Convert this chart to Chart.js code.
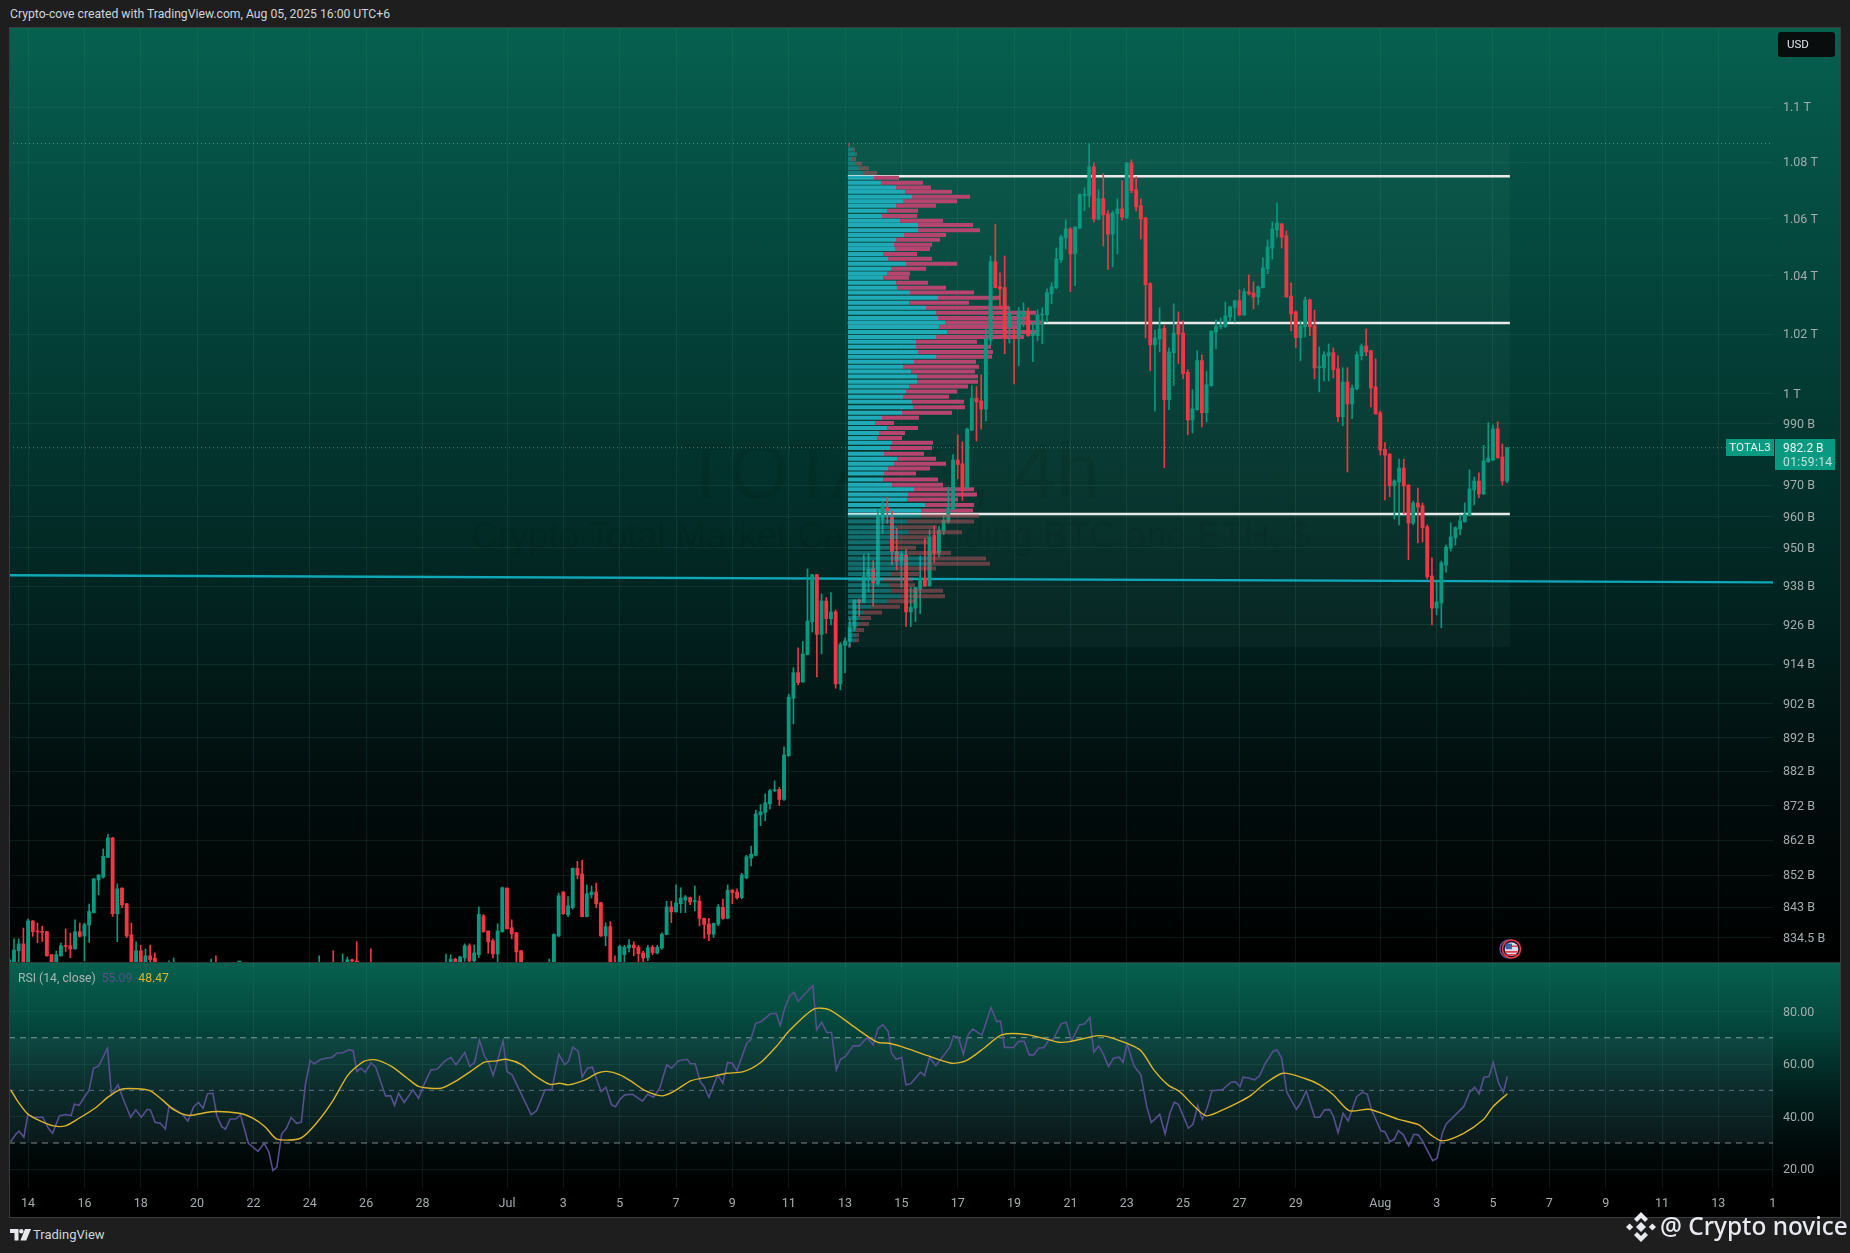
<!DOCTYPE html>
<html>
<head>
<meta charset="utf-8">
<title>TOTAL3, 4h</title>
<script src="https://cdn.jsdelivr.net/npm/chart.js@4.4.4/dist/chart.umd.min.js"></script>
<style>
  html, body { margin: 0; padding: 0; background: #1e1e1e; width: 1850px; height: 1253px; overflow: hidden; }
  body { position: relative; font-family: Roboto, sans-serif; color: #b2b5be; }
  .abs { position: absolute; white-space: nowrap; }
  #pricePane { left: 9px; top: 27px; width: 1831px; height: 935px;
    background: linear-gradient(180deg, #06614f 0%, #055347 12%, #033b33 38%, #022320 62%, #010c0c 82%, #000 100%); }
  #rsiPane { left: 9px; top: 963px; width: 1831px; height: 254px;
    background: linear-gradient(180deg, #06614f 0%, #04453b 26%, #022320 48%, #010c0c 70%, #000 88%, #000 100%); }
  #frame { left: 9px; top: 27px; width: 1830px; height: 1189px; border: 1px solid #3a3d3f; box-sizing: content-box; }
  #paneGap { left: 9px; top: 962px; width: 1831px; height: 1px; background: #2a3a38; }
  canvas { position: absolute; left: 0; top: 0; }
  .mark1 { left: 9px; width: 1764px; text-align: center; top: 426px; font: 78px "Liberation Sans", sans-serif; color: rgba(0,0,0,0.08); }
  .mark2 { left: 9px; width: 1764px; text-align: center; top: 515px; font: 36.5px "Liberation Sans", sans-serif; color: rgba(0,0,0,0.08); }
  .tag { background: #089981; color: #eef3f2; font-size: 12px; }
</style>
</head>
<body>
<div class="abs" style="left:10px;top:7px;font-size:12.2px;color:#d1d4dc;">Crypto-cove created with TradingView.com, Aug 05, 2025 16:00 UTC+6</div>

<div class="abs" id="pricePane"></div>
<div class="abs mark1">TOTAL3, 4h</div>
<div class="abs mark2">Crypto Total Market Cap Excluding BTC and ETH, $</div>
<div class="abs" style="left:9px;top:27px;width:1831px;height:935px;"><canvas id="priceChart" width="1831" height="935"></canvas></div>

<div class="abs" id="rsiPane"></div>
<div class="abs" style="left:9px;top:963px;width:1831px;height:254px;"><canvas id="rsiChart" width="1831" height="254"></canvas></div>
<div class="abs" id="paneGap"></div>
<div class="abs" id="frame"></div>

<div class="abs" style="left:18px;top:971px;font-size:12.2px;color:#a9b4b4;">RSI (14, close)
  <span style="color:#574f8e;margin-left:3px;">55.09</span>
  <span style="color:#dcb52e;margin-left:3px;">48.47</span></div>

<div class="abs" style="left:1778px;top:32px;width:57px;height:25px;background:#090d0d;border-radius:3px;box-sizing:border-box;padding:5px 0 0 9px;font-size:11.5px;color:#e0e3eb;">USD</div>
<div class="abs tag" style="left:1726px;top:439px;width:48px;height:17px;line-height:17px;text-align:center;font-size:11.6px;">TOTAL3</div>
<div class="abs tag" style="left:1775px;top:439px;width:60px;height:31px;box-sizing:border-box;padding:2px 0 0 8px;line-height:14px;">982.2 B<br><span style="color:#c4e2dc;letter-spacing:.4px;">01:59:14</span></div>

<svg class="abs" style="left:1497px;top:938px;" width="26" height="22" viewBox="0 0 26 22">
  <circle cx="12" cy="11" r="9" fill="#141028" stroke="#5b5093" stroke-width="1.5"/>
  <circle cx="14.5" cy="11" r="9" fill="#141028" stroke="#f23645" stroke-width="1.6"/>
  <circle cx="14.5" cy="11" r="6.8" fill="#d8dce6"/>
  <path d="M8.2 13h12.6v1.8H8.2zM9.6 16h9.8v1.4H9.6zM15 7.4h5v1.6h-5z" fill="#e8404f"/>
  <rect x="8.6" y="5.6" width="6.4" height="5.6" fill="#3f5fb0"/>
</svg>

<svg class="abs" style="left:10px;top:1229px;" width="21" height="12" viewBox="0 0 21 12">
  <path d="M0 0h8.5v11.5h-4V4H0z M15 0h6l-4.8 11.5h-5.8z" fill="#e6e8ec"/><circle cx="11.3" cy="2.2" r="2.2" fill="#e6e8ec"/>
</svg>
<div class="abs" style="left:33px;top:1227px;font-size:13px;color:#d1d4dc;">TradingView</div>

<svg class="abs" style="left:1626px;top:1212px;" width="30" height="30" viewBox="0 0 30 30">
  <g fill="#e8eaf0">
    <path d="M15 0l7 7-3 3-4-4-4 4-3-3z"/>
    <path d="M15 30l7-7-3-3-4 4-4-4-3 3z"/>
    <path d="M0 15l3.6-3.6 3.6 3.6-3.6 3.6zM22.8 15l3.6-3.6L30 15l-3.6 3.6z"/>
    <path d="M15 10l5 5-5 5-5-5z"/>
  </g>
</svg>
<div class="abs" style="left:1660px;top:1209px;font:500 24.4px 'Noto Sans',sans-serif;color:#e8eaf0;">@ Crypto novice</div>

<script>
// 4h candles, billions USD. Everything under about 827.8 sits below the pane edge
const opens = [
  824,827.9,830.9,832.8,826,839.2,836.3,836.2,836.2,829.8,
  826,829.5,832.3,832.3,831.4,836.2,835,838,841.5,850.7,
  851.5,857.1,862.7,841.2,848.4,844,835.3,827,830.9,827,
  829.5,828.9,826,824,825,825,823,822,821,820,
  819,820,821,824,826,824,822,820,819,818,
  818,817,818,819,820,819,818,817,818,819,
  820,819,820,821,822,823,824,825,824,825,
  824,825,826,828.4,828.1,824,823,825,824,823,
  822,821,820,819,820,821,822,821,822,823,
  824,823,824,825,826,828.6,827,828.9,832.3,828.1,
  829.8,840.6,836.4,833.7,830,836.2,848.4,837.3,835.9,830.9,
  826,824,823,822,823,824,826,835,847.3,840.9,
  842.9,854,852.4,840.4,846.5,847.3,844.3,835,837.6,826.5,
  827.6,829.8,831.7,832.5,831.9,830.3,828.9,831.9,830.3,831.7,
  835.4,843.1,841.7,844,845,845.7,844.6,844.7,839.9,838.3,
  835.5,838.3,843,839.9,847.8,847.3,845.7,851.3,856.9,857.7,
  869.3,870,872.5,876.3,876.7,873.8,886.6,903.7,911.4,908.6,
  916.9,926.9,941.6,923.1,933.4,927.9,930,908,919.7,921,
  925.1,933.7,932.9,940.8,943.4,938.8,959,962.7,959.9,948.9,
  945.7,947.7,930,931.2,937.1,940.5,938.1,954,948.5,955.5,
  958.3,962.3,978.2,977,969.2,988,998.5,997.6,994.9,1018,
  1044.9,1036.2,1035.9,1022.5,1019.7,1019.2,1026,1027.7,1019.5,1019.5,
  1026.5,1026.6,1033.8,1035.9,1045.5,1053.2,1056.3,1047.6,1056.6,1068.2,
  1068,1078.4,1059.8,1067,1061.6,1054.5,1061.6,1063.4,1060.2,1079.8,
  1070.2,1064.5,1060.2,1037.3,1016.4,1018.4,1022,998,1013.7,1023.5,
  1020.4,1007.1,991.3,994.7,1011.1,993.7,1002.7,1020.7,1022.6,1022.5,
  1025.9,1029.1,1031.4,1026.5,1034.5,1034.1,1032.7,1035.9,1042.4,1049.6,
  1056,1058.1,1053.9,1033,1027.6,1018.8,1022.5,1031.7,1022.8,1008.7,
  1008.6,1012.7,1013.7,1008.3,992.4,1003.9,996.6,1001.6,1012.7,1016,
  1014.4,1002.3,993.7,981.7,980.1,969.8,971.1,975.6,970.1,957.9,
  964.3,963.4,956.7,941.2,931.2,932.8,944.6,949.9,953.2,956,
  958.3,960.5,968.5,971.4,967.2,977.6,978.2,988.4,979.2,971.4
];
const highs = [
  828.8,834.2,834.2,837.2,839.7,839.3,838.6,837.7,836.3,829.9,
  830.8,833,837,835.8,839.5,838.6,838.6,843.9,851.1,852.2,
  859.5,863.7,862.8,849.6,848.5,844.1,838.6,833.4,832.4,831.4,
  832.5,830.3,826.5,825,828.1,828.9,823.5,822,821.5,820.5,
  821,822,824,828.6,829.5,824.5,822.5,820.5,819.5,819,
  819,819,820,821,821,820,819,819,820,821,
  821,821,822,823,824,825,829.5,825.5,826,830.9,
  826,830,829.2,828.6,833.4,824.5,826,831.4,824.5,823.5,
  822.5,821.5,820.5,821,822,823,822.5,823,824,825,
  824.5,825,826,830,829.8,828.9,829.4,832.8,832.8,832.5,
  843.1,841,836.4,834.2,838.4,848.7,848.5,839.5,836,831,
  826.5,824.5,823.5,824,825,828.6,835.6,847,847.4,846,
  854.1,856,856.3,849.3,849,849.8,844.4,838.7,839,829.5,
  832.5,832.4,834,833.4,832.4,830.8,832.4,832.4,832.4,835.9,
  844.7,844.7,849.3,848.5,846.3,845.9,849,846.2,840,839.9,
  838.6,843.8,845.3,849.3,848,848.2,852.6,857.7,860.3,870.7,
  872.3,875.4,876.7,879.2,877.3,889.2,904.9,912.9,919,920.9,
  943.4,941.7,941.7,935.6,934.5,936,930.6,920.6,922,927.9,
  933.8,934,947.8,948.2,946,962.3,964.8,966.1,961.7,956.2,
  948.9,949.6,937.6,937.7,947.4,953,955.7,957,956.9,960.3,
  969.4,980,986.4,984.1,988.6,1002.7,1002.4,1006.3,1021.7,1046.9,
  1058,1041,1046.9,1029.3,1021.7,1029.1,1030.7,1029,1023.9,1028.3,
  1029,1035.5,1037.6,1049.7,1054.2,1059.5,1056.8,1057.1,1068.8,1070.9,
  1086.8,1079.8,1070.2,1075.9,1062.7,1062.7,1067,1073.4,1080,1080.9,
  1074.8,1067,1060.4,1037.6,1021.4,1029,1023.1,1015.4,1030.4,1027.6,
  1024.5,1008,1001.3,1014.4,1013,1007.4,1021.2,1024.9,1025.5,1031,
  1029.6,1031.5,1035.2,1035.5,1040.3,1037.9,1036.5,1046.2,1052.5,1058.8,
  1065.5,1058.2,1055.6,1037.6,1027.9,1024.5,1032.7,1032,1028.2,1015.7,
  1014.1,1016.7,1015.4,1012.7,1008.7,1008.7,1002.9,1014.1,1016.7,1021.8,
  1014.5,1011.7,994.3,984,980.3,971.8,978.5,978.5,970.2,964.9,
  969.1,964.3,957.3,946.9,939.6,945.9,950.9,957.9,956.7,960.5,
  964.3,975,972.7,974,983,990.4,989.7,990.7,983.4,982.3
];
const lows = [
  822,826,826,824,824,834.9,833.1,833.5,829.4,824,
  824,829.4,830.7,829,831.4,834.7,828.1,833.2,841.4,846.5,
  851.2,857,840.4,833.4,842.9,834.5,825,825,825,825,
  826.5,824,822,821,823,823,821,820,819,818,
  818,819,820,823,823,821,819,818,817,817,
  816,816,817,818,818,817,816,816,817,818,
  818,818,819,820,821,822,823,823,823,823,
  823,824,825,827,823,822,822,823,822,821,
  820,819,818,818,819,820,820,820,821,822,
  822,822,823,824,825,826,826.5,828,827,826,
  829,836,830.2,828.9,827,836,836.9,834.2,826,825,
  823,822,821,821,822,823,825,834.8,841,840.4,
  842.5,851,840.3,840.3,845.6,842.9,834.9,832.3,826,824,
  826,827.8,830.6,829.5,827.8,827.8,828.2,829.8,830,831.3,
  835.3,838.7,841.7,841.5,841.5,843.7,842,837.8,834.3,833.7,
  834.6,837.8,839.6,839.8,844,845.3,845.4,851,854.7,857.5,
  866.2,867.6,871,876,872,873.5,886.4,896,907.7,908.5,
  916.8,923.8,910.1,917.1,923.4,926,906.7,906.2,911.4,919.4,
  924.2,928.7,932.8,936.2,931.9,938.3,954.6,957.8,944.8,943.1,
  937.6,925.5,925.5,927,929.5,937.9,938,945.5,947.2,954.2,
  957.8,962,972.1,965.1,969,987.8,984.4,988.3,991,1016.4,
  1035.8,1028.6,1013.4,1017,1003.3,1009.4,1022.5,1019.2,1010.7,1017.8,
  1016.8,1024.1,1030.4,1035.5,1044.5,1049.3,1034.5,1036.6,1056.4,1062.7,
  1064.1,1058.8,1059.5,1050.4,1042.1,1043.1,1047.6,1059.5,1060,1069.1,
  1062.7,1052.8,1018.7,1007.7,994.3,1014,975.7,994.7,1002.7,1010.1,
  1005,986.4,987,994.5,989,990.7,1002.5,1015,1021.8,1022.3,
  1024.5,1024.1,1026.4,1026.4,1033.4,1028.6,1030,1035.8,1040.7,1045.8,
  1053.5,1049.6,1032.6,1021.1,1015.4,1011,1019.1,1019.5,1005,1000.6,
  1004.3,1004.3,1005.3,990.7,989.4,974.3,991.7,1001.3,1011.3,1012.7,
  995.6,993.2,979.8,965.3,966.3,959.2,957.3,960.8,946.3,957.3,
  951.6,951.9,940.2,926,929.1,925.1,942.4,949,950.9,954.1,
  958.2,960.3,963.7,966,967,977.5,978,978.8,970.1,970.8
];
const closes = [
  828.4,831.1,832.8,826,839.2,836.2,836.1,836,829.5,826,
  829.8,832.3,832.1,831.4,836.2,834.9,838.1,841.8,851,852.1,
  857.4,862.7,841.2,848.2,843.7,835,826.5,830.9,827,829.5,
  828.4,826,824,823,826,826.5,822,821,820,819,
  820,821,823,826,824,822,820,819,818,818,
  817,818,819,820,819,818,817,818,819,820,
  819,820,821,822,823,824,825,824,825,824,
  825,826,828.4,828.1,824,823,825,824,823,822,
  821,820,819,820,821,822,821,822,823,824,
  823,824,825,826,828.6,827,829.2,832.3,828.1,830.3,
  841,836.2,833.4,830,836.4,848.5,837,835.6,830.6,826,
  824,823,822,823,824,826,835.4,846.2,841.2,843.4,
  854,852.1,840.4,846.8,847.3,844,835,837.6,826.5,826,
  832.1,831.9,832.5,831.7,830.1,828.9,831.7,830.4,831.9,835.5,
  843.1,841.7,844.2,845.6,845.9,844.5,844.8,839.9,838.2,835.5,
  838.5,843.1,839.9,847.8,847.1,845.7,852.1,857.3,858,869.6,
  870.2,872.8,876.3,876.5,873.8,886.8,904,911.4,908.4,917.1,
  927.2,941.6,923.1,933.4,927.9,930,908,920,921.1,925.5,
  933.7,932.9,941,943.3,939,959.8,963.2,961.8,948.9,945.8,
  948,930,931.5,937.6,940.5,938,953.5,948.4,955.7,958.8,
  962.7,978.2,976.7,969.2,988.3,998.5,997.3,994.9,1018.4,1044.9,
  1035.9,1035.5,1018.6,1027.1,1018.6,1027.7,1027.7,1019.5,1020.3,1026.6,
  1026.8,1034.2,1036.2,1045.9,1053.5,1056.3,1047.6,1057,1068.4,1068.5,
  1078.4,1059.8,1067,1061.3,1054.5,1062,1063.4,1060.5,1079.8,1069.8,
  1064.1,1059.8,1036.9,1016.4,1018.7,1021.7,998,1014,1020.4,1020,
  1006.7,991.3,995,1011.1,993.7,1003,1021,1022.5,1022.8,1026.2,
  1029.3,1031.4,1026.5,1034.5,1033.8,1032.7,1036.2,1042.7,1050,1056.3,
  1058.4,1053.5,1032.7,1026.9,1018.8,1022.8,1031.7,1022.5,1008.6,1008.9,
  1013,1013.7,1008,992.4,1003.9,996.6,1001.9,1013,1016,1014,
  1001.9,993.3,981.4,979.8,969.8,971.4,975.6,969.8,957.9,964.3,
  963,956.4,940.9,931.2,933.1,945.3,950.3,953.5,956.4,958.6,
  960.8,968.8,971.4,967.2,977.9,978.9,988.4,978.9,971.4,982.2
];

// volume profile rows: price, buy volume, sell volume (arbitrary units)
const profilePrices = [
  1086.2,1084.6,1082.9,1081.2,1079.6,1077.9,1076.2,1074.5,1072.7,1071,1069.5,1067.7,1066.1,1064.5,1062.7,1060.9,
  1059.2,1057.7,1055.9,1054.2,1052.5,1050.8,1049.3,1047.6,1045.9,1044.2,1042.4,1040.8,1039.3,1037.6,1035.9,1034.2,
  1032.4,1030.7,1029,1027.3,1025.5,1024,1022.4,1020.7,1019,1017.4,1015.7,1014,1012.4,1010.7,1009,1007.4,
  1005.7,1004,1002.4,1000.7,999,997.3,995.5,993.7,992,990.3,988.7,987,985.4,983.8,982.1,980.2,
  978.6,977,975.4,973.8,971.9,970.2,968.7,967,965.4,963.7,961.9,960.2,958.4,956.6,955,953.4,
  951.8,950.1,948.4,946.7,945,943.5,941.8,940.1,938.3,936.6,934.9,933.3,931.6,929.8,928.1,926.3,924.4,922.8,921.3,919.6
];
const profileBuy = [
  0,.47,.7,.4,.7,1.1,1.5,2.6,3.3,4.8,5.7,6.4,5.5,4.8,3.9,3.4,
  5.2,7,7,5.6,4.8,4.6,4.7,3.5,4,5.8,4.3,3.9,3.5,4.8,4.9,6.2,
  9,6.1,7.8,8.8,9,9.7,9.1,9.9,8.8,6.8,6.8,7,8.8,6.6,5.5,6.3,
  6.9,6.9,6.1,5.8,5.5,6.4,6.5,5.4,3.4,2.7,3.9,3.1,2.9,4.4,4.2,3.6,
  4.9,4.6,4,3.6,3.5,4.4,6.6,6,5.9,7.7,7.3,7.3,5.9,4.9,6,5.1,
  4.1,4.1,5.9,8,8,4.8,4.3,3.5,4.1,4.3,5.3,3.9,2.3,1.6,1.2,1.1,.8,.8,.8,.2
];
const profileSell = [
  .2,.23,.2,.4,.7,1,1.4,2.5,4.2,3.5,4.7,5.8,5.4,4,3.1,3.5,
  4.3,5.5,6.2,4.2,4.4,3.8,3.5,3.4,4.4,5.1,3.5,2.3,2.6,3.2,4.9,6.4,
  6.2,6,8.3,10,9.2,9.9,8.2,8.9,8.8,6.1,7.5,7.5,5.6,6.2,7.6,6.4,
  6.1,6.1,5.9,5.1,4.6,5.2,5.2,5,3.7,1.9,3.1,2.6,2.5,4.1,4.2,4,
  3.9,5.2,4.2,3.2,5.5,5.1,6,6.9,5.1,4.9,5.2,5.8,6.7,4,5.4,2.9,
  3.9,2.7,4.4,5.8,6.2,4,2.8,3,2.6,5.2,4.4,2.9,2.9,1.8,1.1,1,.8,.3,.3,.1
];

const priceTickValues = [1100,1080,1060,1040,1020,1000,990,970,960,950,938,926,914,902,892,882,872,862,852,843,834.5];
const priceTickLabels = ['1.1 T','1.08 T','1.06 T','1.04 T','1.02 T','1 T','990 B','970 B','960 B','950 B','938 B','926 B','914 B','902 B','892 B','882 B','872 B','862 B','852 B','843 B','834.5 B'];

// days counted from Jul 1
const timeTickDays = [-17,-15,-13,-11,-9,-7,-5,-3,0,2,4,6,8,10,12,14,16,18,20,22,24,26,28,31,33,35,37,39,41,43,44.93];
const timeTickLabels = ['14','16','18','20','22','24','26','28','Jul','3','5','7','9','11','13','15','17','19','21','23','25','27','29','Aug','3','5','7','9','11','13','1'];

const rsiTickValues = [20,40,60,80];
const rsiLevels = [70,50,30];

const rsiDays = [
  -17.62,-17.43,-17.32,-17.15,-17.01,-16.8,-16.48,-16.28,-16.13,-15.89,-15.68,-15.47,-15.36,-15.19,-15.01,-14.84,-14.68,-14.49,-14.18,-14.04,
  -13.81,-13.62,-13.36,-13.18,-12.98,-12.77,-12.66,-12.49,-12.31,-12.13,-12,-11.82,-11.51,-11.33,-11.12,-10.95,-10.79,-10.63,-10.44,-10.3,
  -10.13,-9.99,-9.83,-9.63,-9.46,-9.18,-8.84,-8.62,-8.45,-8.31,-8.17,-8,-7.83,-7.66,-7.47,-7.3,-7.16,-6.99,-6.84,-6.63,
  -6.42,-6.2,-6.04,-5.81,-5.61,-5.46,-5.33,-5.19,-5.03,-4.83,-4.66,-4.31,-4.13,-3.99,-3.85,-3.65,-3.34,-3.14,-2.95,-2.7,
  -2.48,-2.2,-1.99,-1.81,-1.5,-1.32,-1.15,-.98,-.8,-.65,-.49,-.14,0,.18,.86,1.05,1.35,1.59,1.84,2.05,
  2.18,2.34,2.53,2.67,2.85,3.03,3.34,3.51,3.71,3.85,4.01,4.18,4.46,4.81,4.99,5.2,5.42,5.67,5.84,6.09,
  6.4,6.51,6.68,6.86,7,7.17,7.48,7.66,7.83,7.99,8.16,8.51,8.65,8.83,9.03,9.35,9.56,9.7,9.84,10.02,
  10.19,10.33,10.86,10.99,11.17,11.35,11.52,11.69,11.84,12.01,12.29,12.51,12.79,13,13.17,13.34,13.53,13.65,13.81,14.01,
  14.16,14.33,14.68,14.82,15,15.22,15.52,15.73,15.85,16.02,16.2,16.37,16.53,16.86,17.18,17.38,17.52,17.66,17.98,18.16,
  18.36,18.54,18.7,18.87,19.06,19.24,19.38,19.67,19.85,20.04,20.32,20.51,20.69,20.83,21,21.18,21.35,21.53,21.73,21.87,
  22.01,22.26,22.5,22.71,22.87,23.17,23.36,23.53,23.69,23.83,24.19,24.35,24.52,24.68,24.85,25.03,25.39,25.7,25.85,26.02,
  26.13,26.32,26.54,26.71,26.92,27.19,27.33,27.5,27.68,28.02,28.16,28.37,28.67,28.85,29.02,29.2,29.33,29.5,29.68,29.86,
  30.16,30.37,30.54,30.69,31.02,31.16,31.34,31.5,31.64,31.82,32.01,32.19,32.35,32.51,32.86,33.02,33.2,33.34,33.96,34.17,
  34.35,34.51,34.68,34.86,35.01,35.2,35.37,35.51
];
const rsiValues = [
  30.5,33.4,34.5,32.2,40.7,39.8,39.8,35.6,33.7,40.3,40.8,40.4,44.7,44.3,47.4,49.9,58.4,59.3,66,48.3,
  52.1,46.6,39.8,42.6,39.8,42.8,42.6,37.9,37.5,35.3,43.8,43,40.7,38.3,43.8,45.4,43.2,48.7,48.9,40.3,
  36.2,35.3,39.1,39.1,40.7,29.9,26.8,29.9,26.5,19.5,20.8,33.4,35.6,39.7,37.5,37.9,52.1,61.3,60.1,61.6,
  62.2,62.6,64.1,64.4,65.4,65.1,57.2,58.4,56.9,60.4,58.8,47.9,47.9,44.3,48.9,45.4,50.2,47,52.1,57.8,
  58,61.2,62.5,59.7,64.4,59.1,60.6,69.2,62.9,60.6,55.6,68.8,57.2,55.9,40.7,42.3,50.2,50.2,63.7,59.7,
  61,66.4,64.8,55,58.4,58.8,49.5,51.2,44.5,43.8,46.6,48.3,48.5,45.9,48.5,47.4,50.8,59.7,58.4,61.3,
  61.8,60.1,60.1,53.3,51.4,47.4,55.9,52.7,60.6,60.3,57.5,67.9,69.2,75.5,76.2,79.1,79.3,74.5,80.6,85.7,
  87.3,83.8,89.9,73,75.9,72,72,57.8,61.8,62.9,66.9,66.9,70.1,67.3,73.6,74.9,72.4,64.1,61.8,62.5,
  52.1,52.5,56.9,55.6,62.6,59.4,63.5,66.7,70.7,70.2,63.7,71.1,73.3,71,81.5,76.2,76.2,66.3,66.3,68.6,
  68.6,63.5,63.5,66,66.3,69.2,69.2,75.3,75.9,68.8,74.9,75.3,77.8,64.5,66.9,63.5,59.1,62.2,62.6,60.6,
  67.7,59.3,55.9,43.8,37.8,40.9,33.4,41.3,45.5,44.7,35.6,37.1,44.2,39,43.2,49.9,50.2,53.1,53.3,51.4,
  55,54.7,54,55.5,60.3,64.8,65.4,62.2,49.3,42.8,44.9,49.8,39.8,39.8,42.6,42.7,40.3,33.9,41.3,38.4,
  47.6,49.3,48.5,42.6,34.6,34.3,30.5,31.4,34.7,33.1,28.9,33.3,33.1,30.5,23.3,24.2,33.7,37.2,43.8,49.3,
  51.2,48.7,55,55.3,60.6,52.7,49.3,55.3
];
const rsiMaDays = [
  -17.62,-17.36,-17.01,-16.59,-16.1,-15.68,-15.19,-14.63,-14.14,-13.71,-13.15,-12.66,-12.24,-11.82,-11.29,-10.49,-9.5,-9.01,-8.59,-8.17,
  -7.33,-6.77,-6.2,-5.64,-5.08,-4.66,-4.1,-3.54,-3.12,-2.34,-1.85,-1.29,-.8,-.38,-.03,.53,.95,1.52,1.87,2.18,
  2.78,3.2,3.55,4.01,4.43,4.85,5.49,5.91,6.54,7.31,7.8,8.36,8.97,9.56,10.05,10.89,11.45,12.3,13.14,13.56,
  13.98,14.96,15.8,16.3,16.93,17.56,18.47,19.6,20.02,21,21.57,22.47,22.96,23.46,23.88,24.8,25.49,26.02,26.43,26.85,
  27.54,28.3,28.85,29.33,29.89,30.58,31.13,31.61,32.37,32.79,33.2,33.96,34.65,35,35.51
];
const rsiMaValues = [
  50.2,45.7,41,38.5,36.5,36.5,39.4,43.2,47.6,50.4,50.6,49.8,46.4,42.6,40.5,41.9,41.3,39.4,36.2,31.5,
  31.8,37.5,45.7,55.9,61,61.6,59.1,54.6,51.4,50.8,53.3,57.2,60.7,61.2,61.8,59.7,55.9,52.3,52.7,52.1,
  54,56.5,57.2,55.9,53.3,50.2,47.9,49.5,53.7,55.3,56.5,57,60.3,66.7,73,80.9,80.6,74.3,68.3,67.9,
  66.7,63.1,60.3,61.3,66,71.1,71.2,68.3,68.6,70.8,69.6,65.4,57.8,52.1,49.5,40.4,43,45.7,48.3,52.1,
  56.5,54.6,52.1,48.3,42.3,42.8,41,39.1,36.9,33.1,30.8,33.7,38.8,43.8,48.7
];

const firstCandleDay = -17.667;
const dayMin = -17.678, dayMax = 44.94;
const priceMin = 827.8, priceMax = 1129.7;
const rsiMin = 12.9, rsiMax = 98.4;

const whiteLevels = [1075, 1023.8, 960.8];
const dottedLevels = [1086.8, 982.2];
const trendLine = [941.4, 939.2];
const rangeBox = { startDay: 12.1, endDay: 35.6, top: 1086.8, bottom: 919.2 };
const profileStartDay = 12.105, profileDaysPerUnit = 0.355;

const GREEN = '#089981', RED = '#f23645';
const gridColor = 'rgba(72,135,125,0.17)';
const axisFont = { family: 'Roboto, sans-serif', size: 12.5 };

const candleDays = closes.map((_, i) => firstCandleDay + i / 6);
const candleColors = closes.map((c, i) => (c >= opens[i] ? GREEN : RED));

// one horizontal run per profile row, gaps keep them apart
function profileRuns(useRow, fromUnits, toUnits) {
  const pts = [];
  profilePrices.forEach((p, i) => {
    if (!useRow(p)) return;
    pts.push({ x: profileStartDay + fromUnits(i) * profileDaysPerUnit, y: p });
    pts.push({ x: profileStartDay + toUnits(i) * profileDaysPerUnit, y: p });
    pts.push({ x: null, y: null });
  });
  return pts;
}
const isDim = p => p < 960.5 || p > 1075;
const isBright = p => !isDim(p);
const buyEnd = i => profileBuy[i];
const sellEnd = i => profileBuy[i] + profileSell[i];

function rowLine(data, color, order) {
  return { type: 'line', data, borderColor: color, borderWidth: 4, pointRadius: 0, spanGaps: false, order };
}
function levelLine(y1, y2, color, width, dash, order, x1, x2) {
  return {
    type: 'line',
    data: [{ x: x1 === undefined ? dayMin : x1, y: y1 }, { x: x2 === undefined ? dayMax : x2, y: y2 }],
    borderColor: color, borderWidth: width, borderDash: dash, pointRadius: 0, order
  };
}

const noPadding = h => scale => {
  if (h !== undefined) scale.height = h;
  scale.paddingLeft = scale.paddingRight = scale.paddingTop = scale.paddingBottom = 0;
};

const rangeBoxPlugin = {
  id: 'rangeBox',
  beforeDatasetsDraw(chart) {
    const { ctx, scales: { x, y } } = chart;
    const left = x.getPixelForValue(rangeBox.startDay), right = x.getPixelForValue(rangeBox.endDay);
    const top = y.getPixelForValue(rangeBox.top), bottom = y.getPixelForValue(rangeBox.bottom);
    ctx.save();
    ctx.fillStyle = 'rgba(190,255,240,0.035)';
    ctx.fillRect(left, top, right - left, bottom - top);
    ctx.restore();
  }
};

new Chart(document.getElementById('priceChart'), {
  type: 'bar',
  plugins: [rangeBoxPlugin],
  data: {
    datasets: [
      ...dottedLevels.map(p => levelLine(p, p, 'rgba(125,205,185,0.6)', 1, [1, 3], 8)),
      ...whiteLevels.map(p => levelLine(p, p, '#e8ebea', 2.4, [], 6, rangeBox.startDay, rangeBox.endDay)),
      levelLine(trendLine[0], trendLine[1], '#10a8b8', 2.4, [], 7),
      rowLine(profileRuns(isBright, () => 0, buyEnd), '#20a9b6', 5),
      rowLine(profileRuns(isBright, buyEnd, sellEnd), '#b5456e', 5),
      {
        data: candleDays.map((d, i) => ({ x: d, y: [lows[i], highs[i]] })),
        backgroundColor: candleColors, barThickness: 1, grouped: false, order: 4
      },
      {
        data: candleDays.map((d, i) => ({ x: d, y: [opens[i], closes[i]] })),
        backgroundColor: candleColors, barThickness: 3.2, minBarLength: 1, grouped: false, order: 3
      },
      rowLine(profileRuns(isDim, () => 0, buyEnd), 'rgba(30,170,175,0.5)', 2),
      rowLine(profileRuns(isDim, buyEnd, sellEnd), 'rgba(190,85,95,0.5)', 2)
    ]
  },
  options: {
    responsive: false, animation: false, devicePixelRatio: 1, events: [],
    layout: { padding: 0 },
    plugins: { legend: { display: false }, tooltip: { enabled: false } },
    scales: {
      x: {
        type: 'linear', min: dayMin, max: dayMax, offset: false,
        grid: { color: gridColor, drawTicks: false, offset: false }, border: { display: false },
        ticks: { display: false },
        afterBuildTicks: s => { s.ticks = timeTickDays.slice(0, -1).map(value => ({ value })); },
        afterFit: noPadding(0)
      },
      y: {
        type: 'logarithmic', position: 'right', min: priceMin, max: priceMax, bounds: 'data', beginAtZero: false,
        grid: { color: gridColor, drawTicks: false }, border: { display: false },
        ticks: {
          color: '#a3adad', font: axisFont, padding: 10, labelOffset: 1, autoSkip: false,
          callback: v => priceTickLabels[priceTickValues.indexOf(v)]
        },
        afterBuildTicks: s => { s.ticks = priceTickValues.map(value => ({ value })); },
        afterFit: s => { s.width = 67; noPadding()(s); }
      }
    }
  }
});

new Chart(document.getElementById('rsiChart'), {
  type: 'line',
  data: {
    datasets: [
      {
        data: [{ x: dayMin, y: rsiLevels[0] }, { x: dayMax, y: rsiLevels[0] }],
        borderColor: 'rgba(205,215,215,0.6)', borderWidth: 1, borderDash: [6, 5], pointRadius: 0,
        fill: { value: rsiLevels[2] }, backgroundColor: 'rgba(110,150,165,0.1)', order: 5
      },
      levelLine(rsiLevels[1], rsiLevels[1], 'rgba(150,150,190,0.6)', 1, [5, 5], 4),
      levelLine(rsiLevels[2], rsiLevels[2], 'rgba(205,215,215,0.6)', 1, [6, 5], 4),
      {
        data: rsiDays.map((d, i) => ({ x: d, y: rsiValues[i] })),
        borderColor: '#574f8e', borderWidth: 1.6, pointRadius: 0, order: 2
      },
      {
        data: rsiMaDays.map((d, i) => ({ x: d, y: rsiMaValues[i] })),
        borderColor: '#dcb52e', borderWidth: 1.4, pointRadius: 0, tension: 0.25, order: 1
      }
    ]
  },
  options: {
    responsive: false, animation: false, devicePixelRatio: 1, events: [],
    layout: { padding: 0 },
    plugins: { legend: { display: false }, tooltip: { enabled: false } },
    scales: {
      x: {
        type: 'linear', min: dayMin, max: dayMax,
        grid: { color: gridColor, drawTicks: false }, border: { display: false },
        ticks: {
          color: '#a3adad', font: axisFont, padding: 8, maxRotation: 0, autoSkip: false,
          callback: v => timeTickLabels[timeTickDays.indexOf(v)]
        },
        afterBuildTicks: s => { s.ticks = timeTickDays.map(value => ({ value })); },
        afterFit: noPadding(29)
      },
      y: {
        type: 'linear', position: 'right', min: rsiMin, max: rsiMax,
        grid: { color: gridColor, drawTicks: false }, border: { display: false },
        ticks: {
          color: '#a3adad', font: axisFont, padding: 10, labelOffset: 1, autoSkip: false,
          callback: v => v.toFixed(2)
        },
        afterBuildTicks: s => { s.ticks = rsiTickValues.map(value => ({ value })); },
        afterFit: s => { s.width = 67; noPadding()(s); }
      }
    }
  }
});
</script>
</body>
</html>
